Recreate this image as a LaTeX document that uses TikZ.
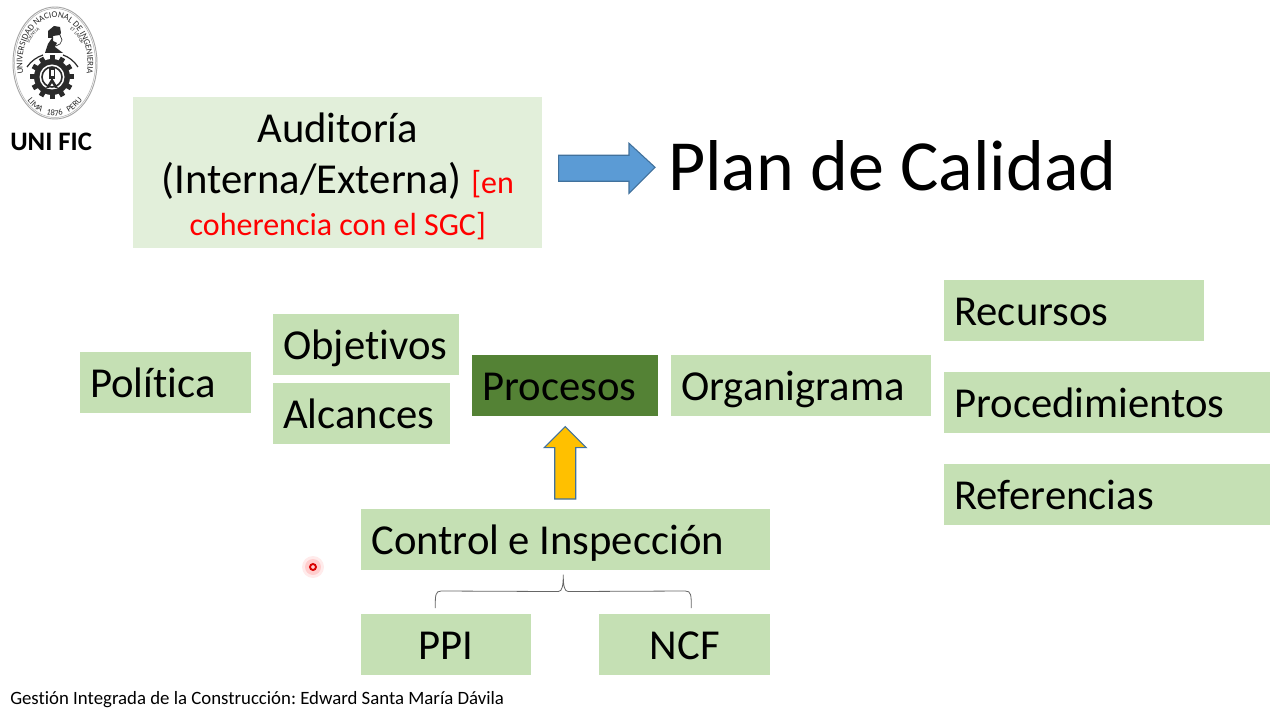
\documentclass[tikz,border=0pt]{standalone}
\usepackage{fontspec}
\setmainfont[Ligatures=NoCommon]{Carlito}
\usetikzlibrary{decorations.text,calc}
\frenchspacing
\definecolor{boxgreen}{HTML}{C5E0B4}
\definecolor{lightgreen}{HTML}{E2EFDA}
\definecolor{darkgreen}{HTML}{548235}
\definecolor{arrowblue}{HTML}{5B9BD5}
\definecolor{arrowblueline}{HTML}{41719C}
\definecolor{arrowyellow}{HTML}{FFC000}
\definecolor{logoink}{HTML}{2A2A2A}
\newcommand{\boxfont}{\fontsize{32}{38.25}\selectfont}
\newcommand{\redfont}{\fontsize{24}{38.25}\selectfont\color{red}}
\tikzset{
  box/.style={anchor=north west,fill=boxgreen,inner ysep=0pt,inner xsep=7.5pt,
    text width=(#1-20)*0.75pt,text height=34.2pt,text depth=11.55pt,font=\boxfont,text=black,align=flush left},
  cbox/.style={box=#1,align=flush center},
  blockarrow/.style={draw=arrowblueline,line width=0.8pt,line join=miter},
  bracket/.style={draw=gray!80!black,line width=0.6pt},
  logotext/.style={decorate,decoration={text along path,text align=center,text={#1}}}
}
\begin{document}
\begin{tikzpicture}[x=0.75pt,y=-0.75pt]
\useasboundingbox (0,0) rectangle (1280,720);
\fill[white] (0,0) rectangle (1280,720);

% logo
\draw[gray!70,line width=0.7pt] (55,63) ellipse [x radius=42,y radius=56];
\draw[gray!60,line width=0.4pt] (55,63) ellipse [x radius=40.5,y radius=54.5];
\path[logotext={|\fontsize{6.6}{7}\selectfont\color{logoink}|UNIVERSIDAD NACIONAL DE INGENIERIA}]
  (55,63) ++(155:32.5 and 45.5) arc [start angle=155,end angle=385,x radius=32.5,y radius=45.5];
\path[logotext={|\fontsize{6.4}{7}\selectfont\color{logoink}|LIMA ~ 1876 ~ PERU}]
  (55,63) ++(150:39 and 53) arc [start angle=150,end angle=30,x radius=39,y radius=53];
\path[logotext={|\fontsize{3.6}{4}\selectfont\color{logoink}|SCIENTIA}]
  (55,55) ++(185:28 and 30) arc [start angle=185,end angle=255,x radius=28,y radius=30];
\path[logotext={|\fontsize{3.6}{4}\selectfont\color{logoink}|ET LABOR}]
  (55,55) ++(285:28 and 30) arc [start angle=285,end angle=355,x radius=28,y radius=30];
% helmeted bust
\fill[logoink] (45,53) -- (48,44) -- (52,38) -- (48,38) -- (48,31) -- (54,26) -- (60,27) -- (61,33) -- (60,35) -- (53,36) -- (53,41) -- (57,43) -- (55,47) -- (63,53) -- cycle;
\draw[logoink,line width=0.5pt] (60,35) -- (62,40) -- (60,44) -- (56,46);
% laurel arcs
\draw[logoink,line width=0.9pt] (27,67) .. controls (31,61) and (37,57) .. (43,55);
\draw[logoink,line width=0.9pt] (78,67) .. controls (74,61) and (69,57) .. (63,55);
% gear
\foreach \a in {0,30,...,330}{
  \fill[logoink,rotate around={\a:(52,77)}] (49.5,55) rectangle (54.5,62);
}
\fill[logoink] (52,77) circle [radius=18];
\fill[white] (52,77) circle [radius=12.5];
\draw[logoink,line width=1.2pt] (52,77) circle [radius=10];
\fill[logoink] (49,68) rectangle (55,79);
\fill[white] (50.5,70) rectangle (53.5,76);
\fill[logoink] (46,88) -- (52,78) -- (58,88) -- (55,88) -- (52,83) -- (49,88) -- cycle;

\node[anchor=base west,inner sep=0pt,font=\fontsize{20}{24}\selectfont\bfseries] (uni) at (10,150.5) {UNI FIC};

% audit box
\node[anchor=north west,fill=lightgreen,inner ysep=0pt,inner xsep=0pt,text width=409*0.75pt,
  text height=34.2pt,text depth=79.05pt,font=\boxfont,align=flush center] (aud) at (133,97)
  {Auditoría\\(Interna/Externa) {\redfont[en}\\[-6.75pt]{\redfont coherencia con el SGC]}};

% title
\node[anchor=base west,inner sep=0pt,font=\fontsize{54}{62}\selectfont] (plan) at (668,190.5) {Plan de Calidad};

% boxes
\node[box=171] (pol) at (80,352) {Política};
\node[box=186] (obj) at (273,314) {Objetivos};
\node[box=177] (alc) at (273,383) {Alcances};
\node[box=186,fill=darkgreen] (pro) at (472,355) {Procesos};
\node[box=260] (org) at (671,355) {Organigrama};
\node[box=260] (rec) at (944,280) {Recursos};
\node[box=326] (pcd) at (944,372) {Procedimientos};
\node[box=326] (ref) at (944,464) {Referencias};
\node[box=409] (ctl) at (361,509) {Control e Inspección};
\node[cbox=170] (ppi) at (361,614) {PPI};
\node[cbox=171] (ncf) at (599,614) {NCF};

% blue block arrow: audit box to title
\coordinate (bbase) at ($(aud.east)+(16,-5.5)$);
\coordinate (btip) at ($(plan.west |- bbase)+(-13,0)$);
\draw[blockarrow,fill=arrowblue] ($(bbase)+(0,-12)$) -- ($(btip)+(-26,-12)$) -- ($(btip)+(-26,-24)$) -- (btip) -- ($(btip)+(-26,26)$) -- ($(btip)+(-26,14)$) -- ($(bbase)+(0,14)$) -- cycle;

% yellow block arrow: control to procesos
\coordinate (ytip) at ($(pro.south)+(0,10)$);
\coordinate (ybase) at ($(ctl.north)+(-0.5,-10)$);
\draw[blockarrow,fill=arrowyellow] ($(ybase)+(-10.5,0)$) -- ($(ytip)+(-10.5,21)$) -- ($(ytip)+(-21,21)$) -- (ytip) -- ($(ytip)+(21,21)$) -- ($(ytip)+(10.5,21)$) -- ($(ybase)+(10.5,0)$) -- cycle;

% bracket
\coordinate (brT) at ($(ctl.south)+(-2.5,4)$);
\coordinate (brL) at ($(ppi.north)+(-11,-6)$);
\coordinate (brR) at ($(ncf.north)+(6.5,-6)$);
\draw[bracket] (brL) .. controls ($(brL)+(0,-13)$) and ($(brL)+(0,-17)$) .. ($(brL)+(6,-17)$) -- ($(brT)+(-5,17)$) .. controls ($(brT)+(-1,17)$) and ($(brT)+(0,11)$) .. (brT) .. controls ($(brT)+(0,11)$) and ($(brT)+(1,17)$) .. ($(brT)+(5,17)$) -- ($(brR)+(-6,-17)$) .. controls ($(brR)+(0,-17)$) and ($(brR)+(0,-13)$) .. (brR);

% laser pointer
\fill[red,opacity=0.08] (313,567) circle [radius=11];
\fill[red,opacity=0.12] (313,567) circle [radius=8];
\draw[red!85!black,line width=1.4pt,fill=white!80!red] (313,567) circle [radius=3];

% footer
\node[anchor=base west,inner sep=0pt,font=\fontsize{14.1}{17}\selectfont] (foot) at (10,704.5) {Gestión Integrada de la Construcción: Edward Santa María Dávila};
\end{tikzpicture}
\end{document}
